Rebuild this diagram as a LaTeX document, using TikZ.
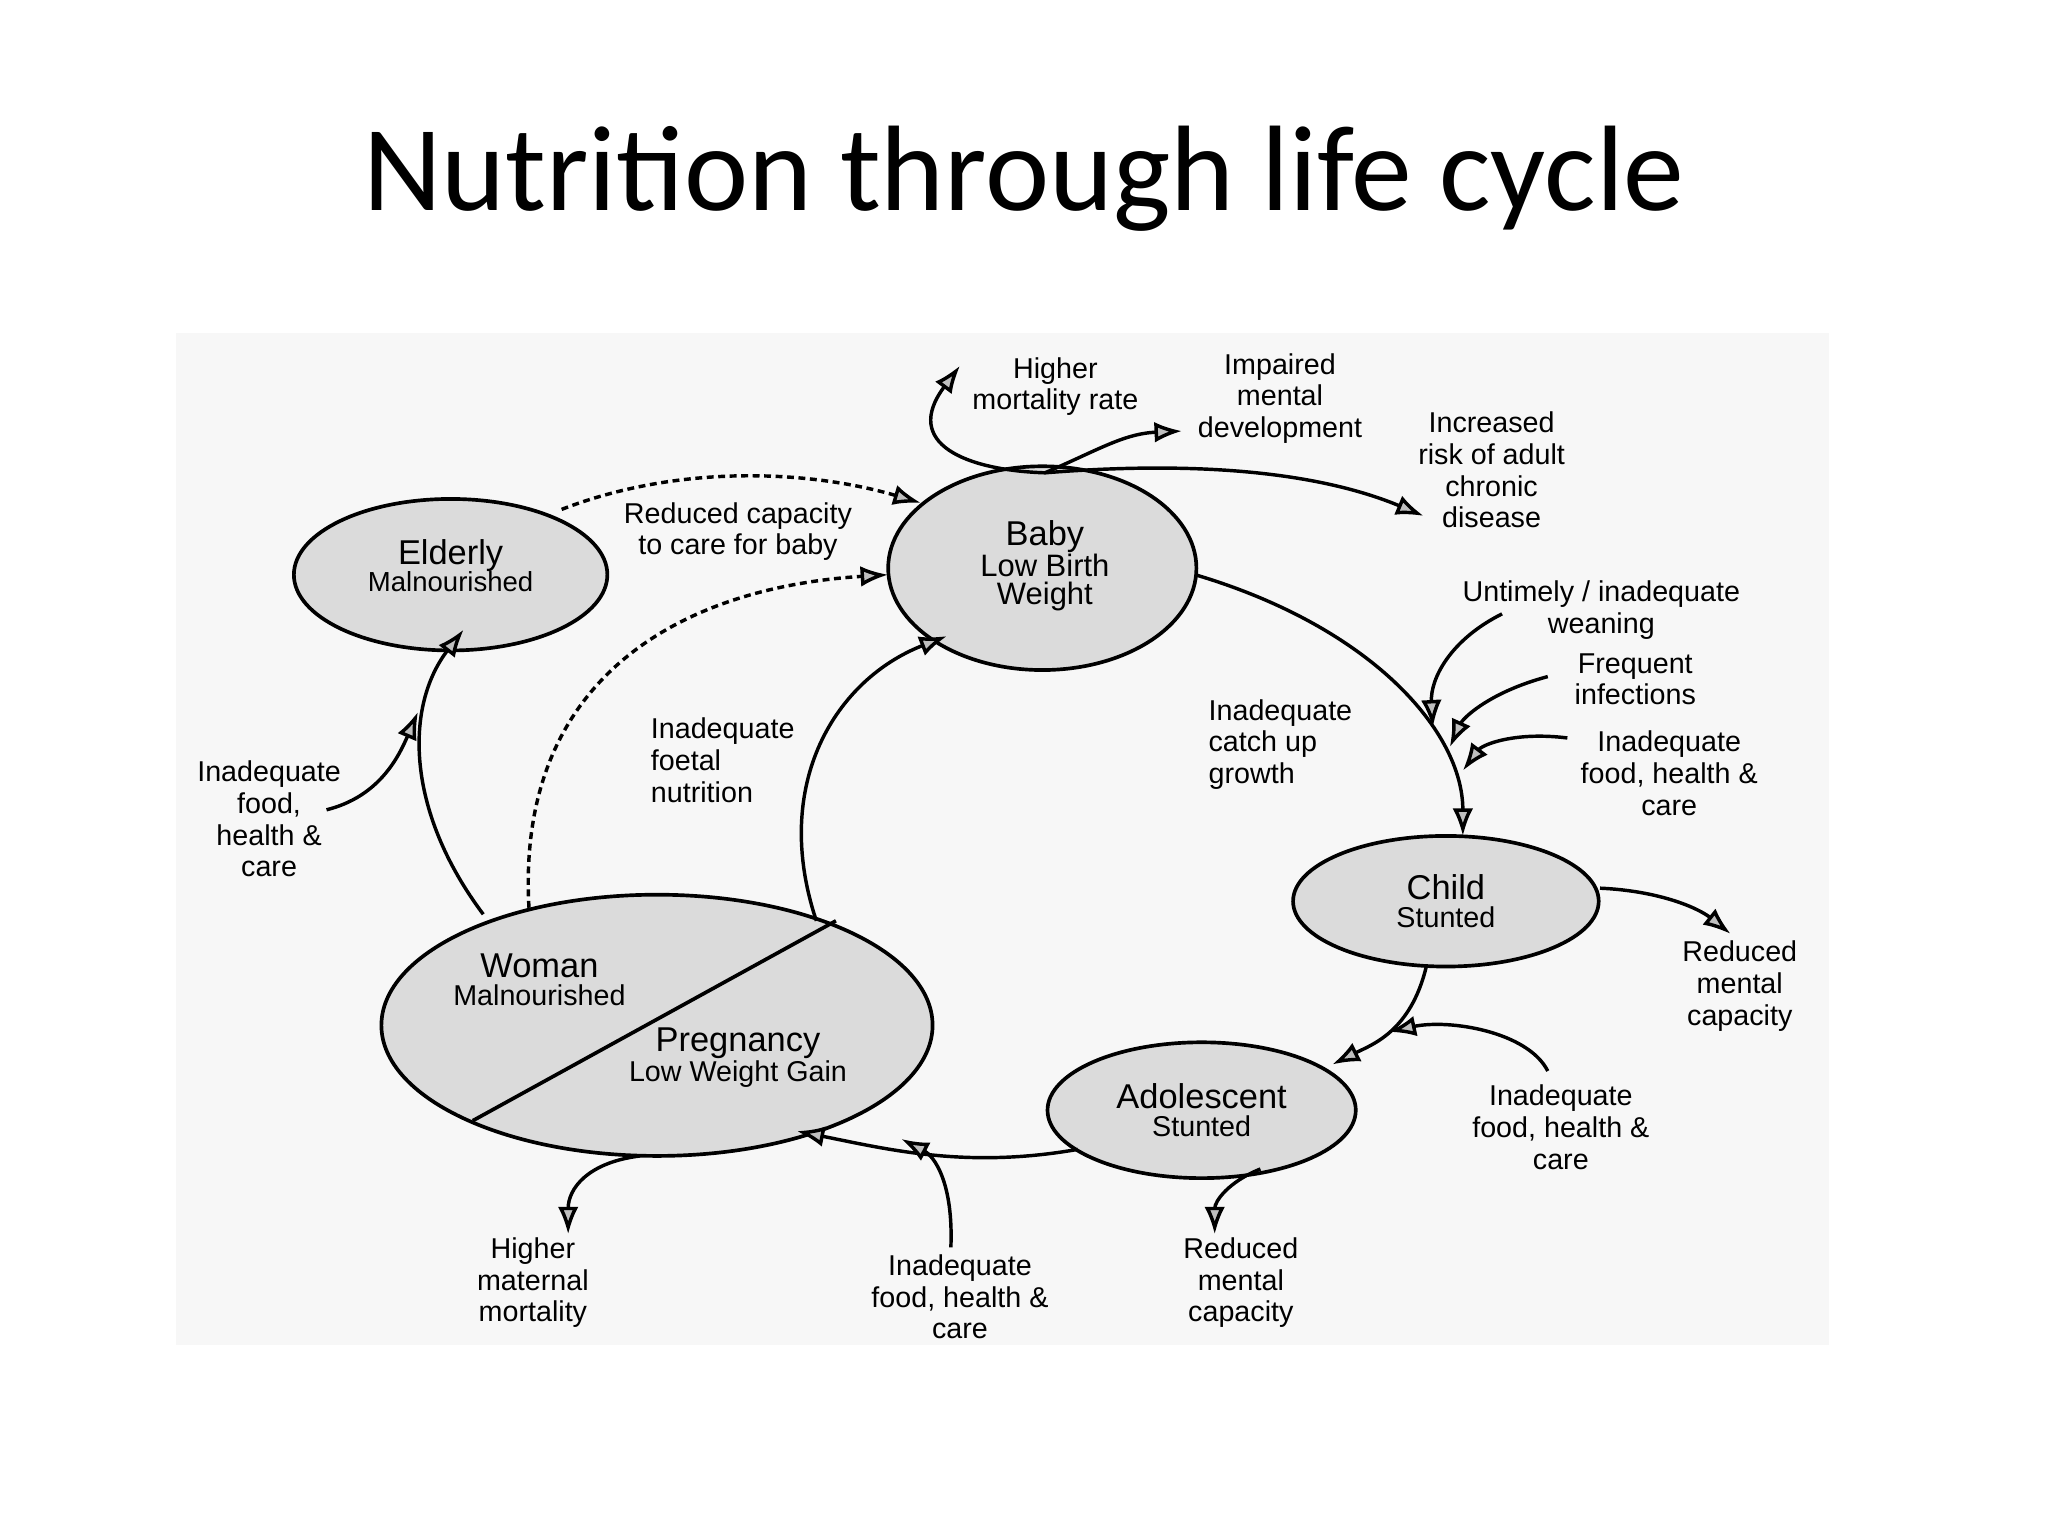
\documentclass[tikz,border=0pt]{standalone}
\usepackage{fontspec}
\setmainfont{Liberation Sans}
\newfontfamily\titlefont{Carlito}
\usetikzlibrary{arrows.meta}
\begin{document}
\begin{tikzpicture}[x=0.02cm,y=-0.02cm,
  lab/.style={align=center,font=\fontsize{12.5}{13.8}\selectfont,inner sep=0pt},
  lifeell/.style={draw,line width=1.6pt,fill=gray!28},
  arr/.style={line width=1.5pt,-{Latex[length=12pt,width=9pt,open,fill=gray!50]}},
  dasharr/.style={arr,dash pattern=on 3pt off 2pt}]
\useasboundingbox (0,0) rectangle (1568,1176);
\fill[white!94!gray] (135,255) rectangle (1400,1030);
\node[font=\titlefont\fontsize{53}{60}\selectfont] (title) at (784,137) {Nutrition through life cycle};
% nodes
\draw[lifeell] (345,440) ellipse [x radius=120,y radius=58];
\node[align=center] (eldt) at (345,433) {\fontsize{15}{17}\selectfont Elderly\\\fontsize{12}{14}\selectfont Malnourished};
\draw[lifeell] (798,435) ellipse [x radius=118,y radius=78];
\node[align=center] (baby) at (800,433) {\fontsize{15}{16}\selectfont Baby\\\fontsize{13.5}{15}\selectfont Low Birth\\\fontsize{13.5}{15}\selectfont Weight};
\draw[lifeell] (1107,690) ellipse [x radius=117,y radius=50];
\node[align=center] (child) at (1107,690) {\fontsize{15}{17}\selectfont Child\\\fontsize{12.5}{14}\selectfont Stunted};
\draw[lifeell] (920,850) ellipse [x radius=118,y radius=52];
\node[align=center] (adol) at (920,850) {\fontsize{15}{17}\selectfont Adolescent\\\fontsize{12.5}{14}\selectfont Stunted};
\draw[lifeell] (503,785) ellipse [x radius=211,y radius=100];
\draw[line width=1.6pt] (362,858) -- (640,705);
\node[align=center] (woman) at (413,750) {\fontsize{15}{17}\selectfont Woman\\\fontsize{12.5}{14}\selectfont Malnourished};
\node[align=center] (preg) at (565,810) {\fontsize{15}{17}\selectfont Pregnancy\\\fontsize{12.5}{14}\selectfont Low Weight Gain};
% labels
\node[lab] (hmr) at (808,296) {Higher\\mortality rate};
\node[lab] (imd) at (980,305) {Impaired\\mental\\development};
\node[lab] (irc) at (1142,360) {Increased\\risk of adult\\chronic\\disease};
\node[lab] (rcc) at (565,407) {Reduced capacity\\to care for baby};
\node[lab] (unt) at (1226,467) {Untimely / inadequate\\weaning};
\node[lab] (fri) at (1252,520) {Frequent\\infections};
\node[lab] (ifc1) at (1278,592) {Inadequate\\food, health \&\\care};
\node[lab,align=left,anchor=west] (icg) at (925,570) {Inadequate\\catch up\\growth};
\node[lab,align=left,anchor=west] (ifn) at (498,582) {Inadequate\\foetal\\nutrition};
\node[lab] (ifc0) at (206,627) {Inadequate\\food,\\health \&\\care};
\node[lab] (rmc1) at (1332,755) {Reduced\\mental\\capacity};
\node[lab] (ifc2) at (1195,863) {Inadequate\\food, health \&\\care};
\node[lab] (hmm) at (408,982) {Higher\\maternal\\mortality};
\node[lab] (ifc3) at (735,993) {Inadequate\\food, health \&\\care};
\node[lab] (rmc2) at (950,982) {Reduced\\mental\\capacity};
% coordinates
\coordinate (b1) at (800,362);
\coordinate (m1) at (690,872);
% connectors
\draw[dasharr] (430,390) .. controls (520,355) and (620,360) .. (705,385);
\draw[dasharr] (405,695) .. controls (395,520) and (520,450) .. (680,440);
\draw[arr] (370,700) .. controls (310,620) and (310,540) .. (355,482);
\draw[arr] (625,705) .. controls (590,600) and (640,520) .. (725,487);
\draw[arr] (915,440) .. controls (1050,480) and (1120,560) .. (1120,640);
\draw[arr] (1092,740) .. controls (1080,790) and (1050,800) .. (1020,815);
\draw[arr] (825,880) .. controls (740,895) and (680,880) .. (610,866);
\draw[arr] (b1) .. controls (740,360) and (690,340) .. (735,280);
\draw[arr] (b1) .. controls (840,345) and (860,332) .. (905,330);
\draw[arr] (b1) .. controls (950,350) and (1030,370) .. (1090,395);
\draw[arr] (1150,470) .. controls (1110,490) and (1095,520) .. (1097,557);
\draw[arr] (1185,518) .. controls (1140,530) and (1120,550) .. (1110,572);
\draw[arr] (1200,565) .. controls (1160,560) and (1135,570) .. (1120,590);
\draw[arr] (1225,680) .. controls (1270,682) and (1300,695) .. (1325,715);
\draw[arr] (1185,820) .. controls (1170,790) and (1110,780) .. (1063,790);
\draw[arr] (965,895) .. controls (940,905) and (930,920) .. (930,945);
\draw[arr] (728,955) .. controls (730,905) and (715,885) .. (m1);
\draw[arr] (490,885) .. controls (450,890) and (435,910) .. (435,945);
\draw[arr] (250,620) .. controls (290,610) and (305,580) .. (320,545);
\end{tikzpicture}
\end{document}
